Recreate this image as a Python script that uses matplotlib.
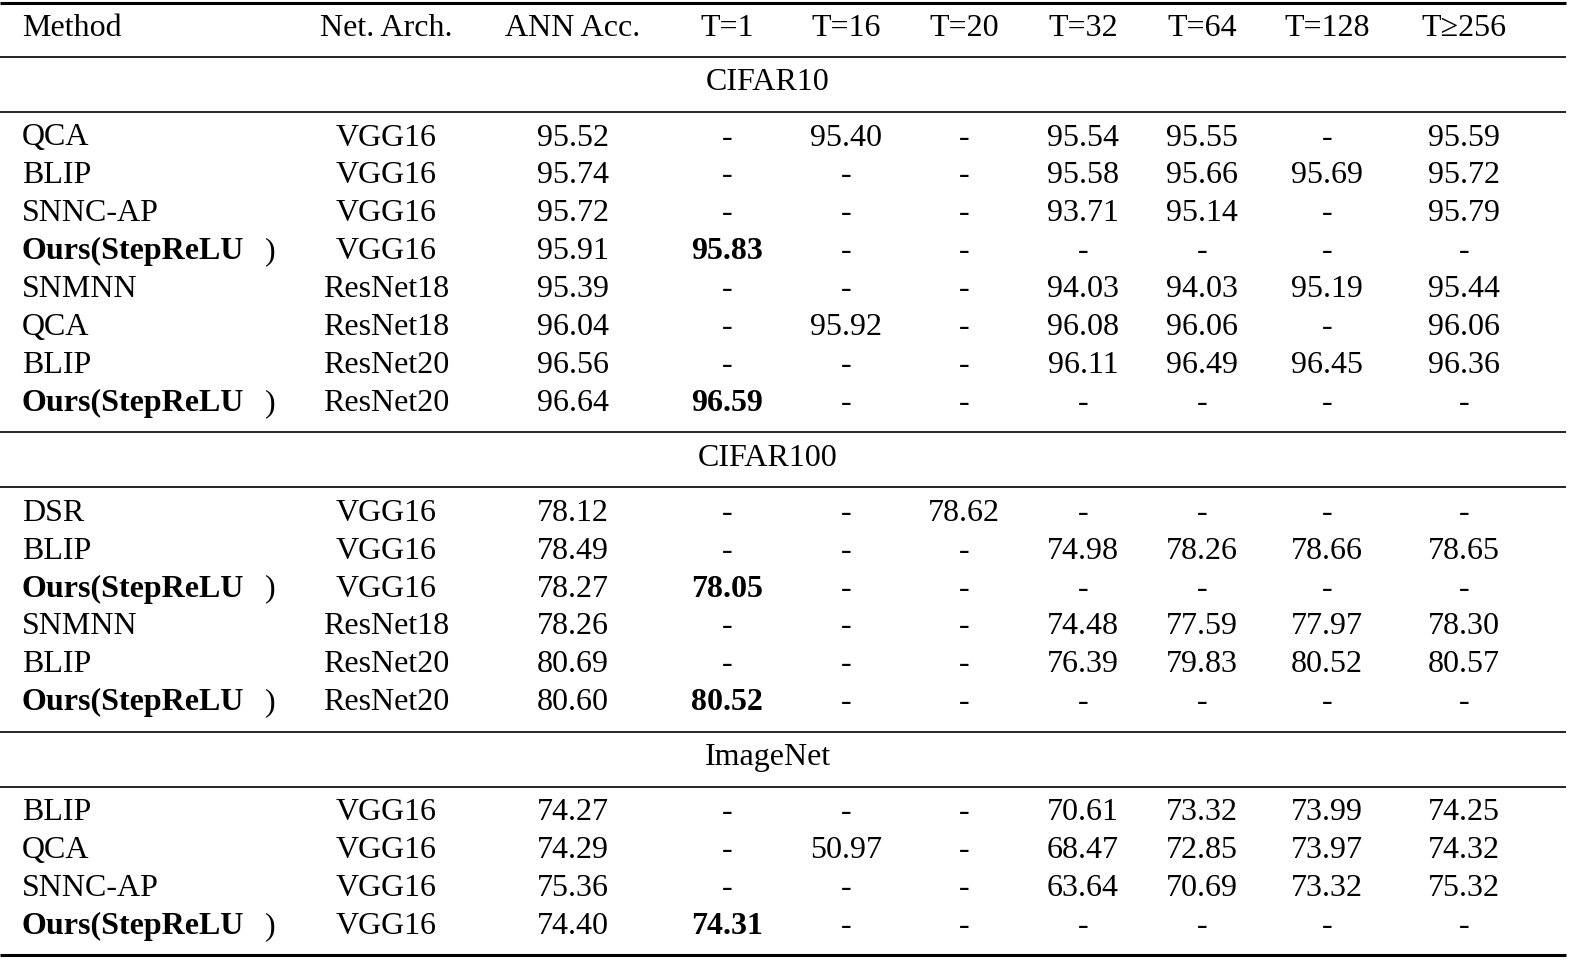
import matplotlib
matplotlib.use("Agg")
import matplotlib.pyplot as plt

plt.rcParams['font.family'] = ['Liberation Serif', 'DejaVu Serif']

header = ["Method", "Net. Arch.", "ANN Acc.", "T=1", "T=16", "T=20", "T=32", "T=64", "T=128", "T≥256"]

cifar10 = [
    ["QCA", "VGG16", "95.52", "-", "95.40", "-", "95.54", "95.55", "-", "95.59"],
    ["BLIP", "VGG16", "95.74", "-", "-", "-", "95.58", "95.66", "95.69", "95.72"],
    ["SNNC-AP", "VGG16", "95.72", "-", "-", "-", "93.71", "95.14", "-", "95.79"],
    ["Ours(StepReLU)", "VGG16", "95.91", "95.83", "-", "-", "-", "-", "-", "-"],
    ["SNMNN", "ResNet18", "95.39", "-", "-", "-", "94.03", "94.03", "95.19", "95.44"],
    ["QCA", "ResNet18", "96.04", "-", "95.92", "-", "96.08", "96.06", "-", "96.06"],
    ["BLIP", "ResNet20", "96.56", "-", "-", "-", "96.11", "96.49", "96.45", "96.36"],
    ["Ours(StepReLU)", "ResNet20", "96.64", "96.59", "-", "-", "-", "-", "-", "-"],
]
cifar100 = [
    ["DSR", "VGG16", "78.12", "-", "-", "78.62", "-", "-", "-", "-"],
    ["BLIP", "VGG16", "78.49", "-", "-", "-", "74.98", "78.26", "78.66", "78.65"],
    ["Ours(StepReLU)", "VGG16", "78.27", "78.05", "-", "-", "-", "-", "-", "-"],
    ["SNMNN", "ResNet18", "78.26", "-", "-", "-", "74.48", "77.59", "77.97", "78.30"],
    ["BLIP", "ResNet20", "80.69", "-", "-", "-", "76.39", "79.83", "80.52", "80.57"],
    ["Ours(StepReLU)", "ResNet20", "80.60", "80.52", "-", "-", "-", "-", "-", "-"],
]
imagenet = [
    ["BLIP", "VGG16", "74.27", "-", "-", "-", "70.61", "73.32", "73.99", "74.25"],
    ["QCA", "VGG16", "74.29", "-", "50.97", "-", "68.47", "72.85", "73.97", "74.32"],
    ["SNNC-AP", "VGG16", "75.36", "-", "-", "-", "63.64", "70.69", "73.32", "75.32"],
    ["Ours(StepReLU)", "VGG16", "74.40", "74.31", "-", "-", "-", "-", "-", "-"],
]
sections = [("CIFAR10", cifar10), ("CIFAR100", cifar100), ("ImageNet", imagenet)]

col_x = [22, 386, 573, 727, 846, 964, 1083, 1202, 1327, 1464]
row_h = 37.9
fs = 23

fig = plt.figure(figsize=(15.78, 9.64), dpi=100)
ax = fig.add_axes([0, 0, 1, 1])
ax.set_xlim(0, 1578)
ax.set_ylim(964, 0)
ax.axis('off')

def put(x, y, s, left=False, bold=False):
    ax.text(x, y, s, ha='left' if left else 'center', va='center', fontsize=fs,
            fontweight='bold' if bold else 'normal')

def hline(y, lw):
    ax.plot([0, 1566], [y, y], color='black', lw=lw, solid_capstyle='butt')

hline(3, 2.2)
y = 28
for i, h in enumerate(header):
    put(col_x[i], y, h, left=(i == 0))
y = 57
hline(y, 1.2)
for k, (name, rows) in enumerate(sections):
    put(768, y + 26, name)
    y += 55
    hline(y, 1.2)
    y += 26
    for r in rows:
        ours = r[0].startswith("Ours")
        for i, v in enumerate(r):
            if i == 0 and ours:
                ax.text(col_x[0], y, "Ours(StepReLU", ha='left', va='center', fontsize=fs, fontweight='bold')
                put(270, y, ")", left=False)
                continue
            put(col_x[i], y, v, left=(i == 0), bold=(ours and i == 3))
        y += row_h
    y -= row_h
    y += 29
    if k < len(sections) - 1:
        hline(y, 1.2)
hline(955, 2.2)

fig.savefig("out.png", dpi=100)
